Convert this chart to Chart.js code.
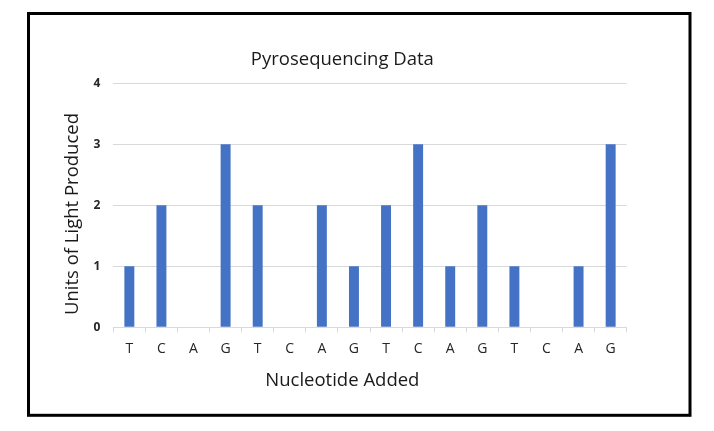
<!DOCTYPE html>
<html>
<head>
<meta charset="utf-8">
<script src="https://cdn.jsdelivr.net/npm/chart.js@4"></script>
<style>
  html, body { margin: 0; padding: 0; background: #ffffff; }
  #wrap { position: relative; width: 714px; height: 431px; }
</style>
</head>
<body>
<div id="wrap"><canvas id="grafica"></canvas></div>
<script>
// Datos
const nucleotides = ['T', 'C', 'A', 'G', 'T', 'C', 'A', 'G', 'T', 'C', 'A', 'G', 'T', 'C', 'A', 'G'];
const lightUnits = [1, 2, 0, 3, 2, 0, 2, 1, 2, 3, 1, 2, 1, 0, 1, 3];
const yTickValues = [0, 1, 2, 3, 4];

const chartTitle = 'Pyrosequencing Data';
const xTitle = 'Nucleotide Added';
const yTitle = 'Units of Light Produced';

const fontFamily = '"Open Sans", "Liberation Sans", sans-serif';
const gridColor = '#d9d9d9';

// marco negro y titulo del eje Y (como en Excel, no centrado en el eje)
const marcoPlugin = {
    id: 'marco',
    beforeDraw(chart) {
        const ctx = chart.ctx;
        ctx.save();
        ctx.fillStyle = '#ffffff';
        ctx.fillRect(0, 0, chart.width, chart.height);
        ctx.restore();
    },
    afterDraw(chart) {
        const ctx = chart.ctx;
        ctx.save();
        ctx.translate(73, 214);
        ctx.rotate(-Math.PI / 2);
        ctx.fillStyle = '#1a1a1a';
        ctx.font = '18.5px ' + fontFamily;
        ctx.textAlign = 'center';
        ctx.textBaseline = 'middle';
        ctx.fillText(yTitle, 0, 0);
        ctx.restore();

        ctx.save();
        ctx.strokeStyle = '#000000';
        ctx.lineWidth = 3;
        ctx.strokeRect(28.5, 13.5, 661.5, 401.8);
        ctx.restore();
    }
};

function initGrafica() {
    const ctx = document.getElementById('grafica').getContext('2d');
    new Chart(ctx, {
        type: 'bar',
        data: {
            labels: nucleotides,
            datasets: [{
                label: yTitle,
                data: lightUnits,
                backgroundColor: '#4472c4',
                borderWidth: 0,
                categoryPercentage: 1,
                barPercentage: 0.31
            }]
        },
        options: {
            responsive: true,
            maintainAspectRatio: false,
            animation: false,
            layout: {
                padding: { left: 58, right: 87.3, top: 49, bottom: 39.5 }
            },
            plugins: {
                legend: { display: false },
                tooltip: { enabled: false },
                title: {
                    display: true,
                    text: chartTitle,
                    color: '#1a1a1a',
                    font: { family: fontFamily, size: 18.5, weight: 'normal' },
                    padding: { top: 0, bottom: 12.1 }
                },
                subtitle: {
                    display: true,
                    position: 'bottom',
                    text: xTitle,
                    color: '#1a1a1a',
                    font: { family: fontFamily, size: 18.5, weight: 'normal' },
                    padding: { top: 4.2, bottom: 0 }
                }
            },
            scales: {
                x: {
                    grid: {
                        offset: true,
                        drawOnChartArea: false,
                        drawTicks: true,
                        tickLength: 5,
                        color: gridColor
                    },
                    border: { display: true, color: gridColor, width: 1 },
                    ticks: {
                        color: '#262626',
                        padding: 8,
                        font: { family: fontFamily, size: 14 }
                    }
                },
                y: {
                    min: yTickValues[0],
                    max: yTickValues[yTickValues.length - 1],
                    afterFit(scale) { scale.width = 55.3; },
                    afterBuildTicks(scale) {
                        scale.ticks = yTickValues.map(v => ({ value: v }));
                    },
                    grid: { color: gridColor, drawTicks: false },
                    border: { display: false },
                    ticks: {
                        color: '#262626',
                        padding: 13,
                        font: { family: fontFamily, size: 12, weight: 'bold' }
                    }
                }
            }
        },
        plugins: [marcoPlugin]
    });
}

initGrafica();
</script>
</body>
</html>
